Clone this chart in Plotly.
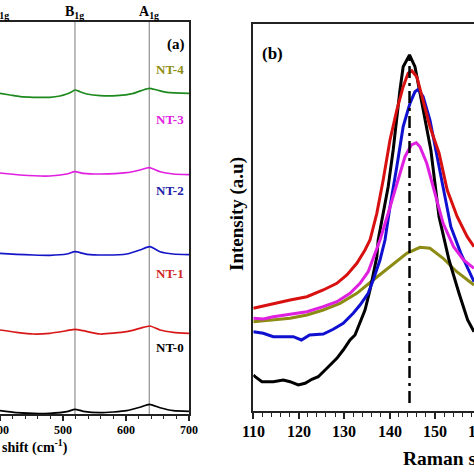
import plotly.graph_objects as go

# ---------------- Panel (a): wide Raman spectra (cm-1 vs a.u.) ----------------
a_nt4_x = [400, 416, 432, 453, 479, 495, 506, 514, 519, 527, 538, 559, 585, 612, 627, 637, 649, 665, 700]
a_nt4_y = [320.7, 319, 317.3, 316.7, 316.7, 318, 320, 322.3, 324, 322.3, 320, 318.3, 318.3, 320.7, 324, 325.7, 324, 321.7, 320.7]

a_nt3_x = [400, 432, 479, 506, 519, 532, 559, 601, 622, 637, 654, 675, 700]
a_nt3_y = [241, 239, 238, 240, 242.3, 240.7, 240, 241.3, 244, 246.3, 242.3, 240, 239.3]

a_nt2_x = [400, 426, 453, 479, 506, 519, 538, 569, 601, 622, 638, 654, 675, 700]
a_nt2_y = [160.7, 159.7, 159, 158.7, 160, 162.3, 159.7, 159, 160, 164, 167.3, 162.3, 160, 159.3]

a_nt1_x = [400, 426, 453, 479, 506, 519, 532, 559, 601, 622, 638, 654, 675, 700]
a_nt1_y = [84, 81.7, 80, 80.7, 83.3, 84.7, 83.3, 80, 82.3, 85.7, 88, 84, 81.7, 80.7]

a_nt0_x = [400, 426, 479, 506, 519, 532, 559, 601, 622, 637, 654, 675, 700]
a_nt0_y = [3.3, 1.3, 0.7, 2.3, 4.7, 2.7, 1.3, 3.3, 6.7, 9.7, 6.3, 3.3, 2.7]

a_modes = ["E<sub>1g</sub>", "B<sub>1g</sub>", "A<sub>1g</sub>"]
a_mode_pos = [399, 519, 637]
a_sample_labels = ["NT-4", "NT-3", "NT-2", "NT-1", "NT-0"]
a_ticks = [400, 500, 600, 700]

# ---------------- Panel (b): zoom on the Eg mode ----------------
b_nt0_x = [110, 110.4, 111.9, 114.4, 116.6, 118.1, 119.9, 121.4, 122.9, 124.3, 126.2, 128.4, 129.8, 131.3,
           132.4, 133.5, 134.6, 135.7, 136.4, 137.2, 137.5, 138.6, 139.7, 140.8, 141.6, 142.3, 143.0, 144.4,
           145.6, 146.7, 148.2, 149.1, 150.9, 153.1, 155.3, 157.2, 158.6]
b_nt0_y = [36, 34.3, 29.3, 29.3, 31.0, 29.3, 26.0, 27.7, 31.7, 34.3, 42.7, 52.7, 61.0, 71.0,
           76.0, 87.7, 101.0, 121.0, 137.7, 154.3, 171, 197.7, 224.3, 261, 294.3, 321, 344.3, 356,
           344.3, 317.7, 284.3, 261, 194.3, 151, 117.7, 91, 79.3]

b_nt1_x = [110, 111.5, 114.4, 118.1, 121.8, 125.4, 128.4, 130.6, 132.8, 134.6, 135.7, 137.2, 138.6, 140.1,
           141.6, 143.0, 144.1, 144.9, 146.0, 147.4, 148.9, 150.9, 152.7, 154.9, 157.1, 158.6]
b_nt1_y = [102.7, 104.3, 107, 111, 114.3, 121, 127.7, 136, 147.7, 161, 171, 197.7, 231, 271,
           301, 324.3, 337.7, 340.3, 334.3, 311, 284.3, 258, 221, 194.3, 174.3, 164.3]

b_nt2_x = [110, 112.2, 114.4, 116.6, 118.8, 120.6, 122.4, 125.4, 127.6, 129.8, 132.0, 133.5, 135.3, 136.4,
           137.9, 139.0, 140.1, 141.6, 143.0, 144.5, 145.6, 146.3, 147.4, 148.9, 150.2, 152.0, 153.5,
           155.7, 157.5, 158.6]
b_nt2_y = [79.3, 77.7, 74.3, 74.3, 74.3, 71, 76, 77, 81.7, 87.7, 97.7, 106, 117.7, 131,
           151, 171, 204.3, 244.3, 284.3, 307.7, 319.3, 321.7, 314.3, 291, 261, 217.7, 184.3,
           157.7, 139.3, 129.3]

b_nt3_x = [110, 112.2, 114.4, 118.1, 121.8, 125.4, 128.4, 131.3, 133.5, 135.3, 136.8, 137.9, 139.7, 141.9,
           143.4, 144.8, 145.9, 146.7, 148.2, 149.8, 151.8, 154.1, 156.3, 158.6]
b_nt3_y = [92.7, 92, 94.3, 97, 99.3, 104.3, 109.3, 117.7, 127.7, 139.3, 157.7, 171, 197.7, 231,
           254.3, 266, 268.3, 264.3, 247.7, 221, 187.7, 164.3, 151, 142.7]

b_nt4_x = [110, 114.4, 118.1, 121.8, 125.4, 129.1, 132.8, 136.4, 140.1, 143.8, 146.7, 148.9, 151.8, 154.8, 158.6]
b_nt4_y = [89.3, 91, 92.7, 96, 101, 107.7, 117.7, 131, 144.3, 157.7, 163.7, 162.7, 152.7, 139.3, 126]

b_eg_pos = 144.4
b_eg_span = [8, 354]
b_ticks = [110, 120, 130, 140, 150, 160]

# ---------------- styling ----------------
W = H = 474
FONT = "Liberation Serif"
GRAY = "#a0a0a0"

A_RANGE = [400, 700]
A_PX = [0, 189]
B_RANGE = [110, 158.6]
B_PX = [253.3, 474]


def px_x(p):
    return p / W


def px_y(p):
    return 1 - p / H


def a_to_paper(v):
    return px_x(A_PX[0] + (v - A_RANGE[0]) / (A_RANGE[1] - A_RANGE[0]) * (A_PX[1] - A_PX[0]))


def b_to_paper(v):
    return px_x(B_PX[0] + (v - B_RANGE[0]) / (B_RANGE[1] - B_RANGE[0]) * (B_PX[1] - B_PX[0]))


fig = go.Figure()

a_series = [
    (a_nt4_x, a_nt4_y, "#1e8a1e", "#8c8c10"),
    (a_nt3_x, a_nt3_y, "#e020e0", "#e020e0"),
    (a_nt2_x, a_nt2_y, "#1515c8", "#2020a8"),
    (a_nt1_x, a_nt1_y, "#d81818", "#d02828"),
    (a_nt0_x, a_nt0_y, "#000000", "#000000"),
]
for (xs, ys, c, _), name in zip(a_series, a_sample_labels):
    fig.add_trace(go.Scatter(x=xs, y=ys, mode="lines", name=name, xaxis="x", yaxis="y",
                             line=dict(color=c, width=1.7, shape="spline", smoothing=0.6),
                             showlegend=False))

b_series = [
    (b_nt4_x, b_nt4_y, "#8c8c14", "NT-4"),
    (b_nt0_x, b_nt0_y, "#000000", "NT-0"),
    (b_nt2_x, b_nt2_y, "#1010d0", "NT-2"),
    (b_nt3_x, b_nt3_y, "#e020e0", "NT-3"),
    (b_nt1_x, b_nt1_y, "#d81010", "NT-1"),
]
for xs, ys, c, name in b_series:
    fig.add_trace(go.Scatter(x=xs, y=ys, mode="lines", name=name, xaxis="x2", yaxis="y2",
                             line=dict(color=c, width=3), showlegend=False))

fig.add_trace(go.Scatter(x=[b_eg_pos, b_eg_pos], y=b_eg_span, mode="lines", xaxis="x2", yaxis="y2",
                         line=dict(color="black", width=2.5, dash="12px,5px,3px,5px"),
                         showlegend=False))

# gray mode lines in panel (a)
for pos in a_mode_pos[1:]:
    fig.add_shape(type="line", xref="x", yref="y domain", x0=pos, x1=pos, y0=0, y1=1,
                  line=dict(color=GRAY, width=1.4), layer="below")

ann = []
tick_font_a = dict(family=FONT, size=12, color="black", weight="bold")
tick_font_b = dict(family=FONT, size=16, color="black", weight="bold")

# mode labels above panel (a)
for lab, pos in zip(a_modes, a_mode_pos):
    ann.append(dict(x=a_to_paper(pos), xref="paper", y=px_y(12), yref="paper", text=lab, showarrow=False,
                    xanchor="center", yanchor="middle",
                    font=dict(family=FONT, size=14, color="black", weight="bold")))

# tick labels drawn as text so that they may run off the page edge like the original
for t in a_ticks:
    ann.append(dict(x=a_to_paper(t), xref="paper", y=px_y(430), yref="paper", text=str(t),
                    showarrow=False, xanchor="center", yanchor="middle", font=tick_font_a))
for t in b_ticks:
    ann.append(dict(x=b_to_paper(t), xref="paper", y=px_y(431), yref="paper", text=str(t),
                    showarrow=False, xanchor="center", yanchor="middle", font=tick_font_b))

ann.append(dict(x=px_x(176), y=px_y(34), xref="paper", yref="paper", text="(a)", showarrow=False,
                font=dict(family=FONT, size=15, color="black", weight="bold")))
label_y = [60, 110, 190, 273, 357]
for (_, _, _, tc), lab, yy in zip(a_series, a_sample_labels, label_y):
    ann.append(dict(x=px_x(170), y=px_y(yy), xref="paper", yref="paper", text=lab, showarrow=False,
                    font=dict(family=FONT, size=13, color=tc, weight="bold")))

ann.append(dict(x=px_x(70), y=px_y(446), xref="paper", yref="paper",
                text="Raman shift (cm<sup>-1</sup>)", showarrow=False, xanchor="right", yanchor="middle",
                font=dict(family=FONT, size=14, color="black", weight="bold")))

ann.append(dict(x=px_x(272), y=px_y(42), xref="paper", yref="paper", text="(b)", showarrow=False,
                font=dict(family=FONT, size=17, color="black", weight="bold")))
ann.append(dict(x=px_x(237), y=px_y(214), xref="paper", yref="paper", text="Intensity (a.u)",
                showarrow=False, textangle=-90,
                font=dict(family=FONT, size=19, color="black", weight="bold")))
ann.append(dict(x=px_x(401), y=px_y(457), xref="paper", yref="paper",
                text="Raman shift (cm<sup>-1</sup>)", showarrow=False, xanchor="left", yanchor="middle",
                font=dict(family=FONT, size=19.5, color="black", weight="bold")))

fig.update_layout(
    width=W, height=H,
    margin=dict(l=0, r=0, t=0, b=0),
    paper_bgcolor="white", plot_bgcolor="white",
    annotations=ann,
    xaxis=dict(domain=[px_x(A_PX[0]), px_x(A_PX[1])], range=A_RANGE, showgrid=False, zeroline=False,
               showline=True, linecolor="#222", linewidth=2, mirror=True,
               ticks="outside", ticklen=5, tickwidth=1.5, tickcolor="#222",
               tickvals=a_ticks, showticklabels=False,
               minor=dict(dtick=20, ticks="outside", ticklen=3, tickwidth=1.2, tickcolor="#222")),
    yaxis=dict(domain=[px_y(414), px_y(22)], range=[0, 392], showgrid=False, zeroline=False,
               side="right", showline=True, linecolor="#222", linewidth=2,
               showticklabels=False, ticks=""),
    xaxis2=dict(domain=[px_x(B_PX[0]), px_x(B_PX[1])], range=B_RANGE, anchor="y2", showgrid=False,
                zeroline=False, showline=True, linecolor="#222", linewidth=2, mirror=True,
                ticks="outside", ticklen=6, tickwidth=1.5, tickcolor="#222",
                tickvals=b_ticks, showticklabels=False,
                minor=dict(dtick=2, ticks="outside", ticklen=3.5, tickwidth=1.2, tickcolor="#222")),
    yaxis2=dict(domain=[px_y(411), px_y(24)], range=[0, 387], anchor="x2", showgrid=False, zeroline=False,
                showline=True, linecolor="#222", linewidth=2, showticklabels=False, ticks=""),
)

fig.write_html("out.html")
